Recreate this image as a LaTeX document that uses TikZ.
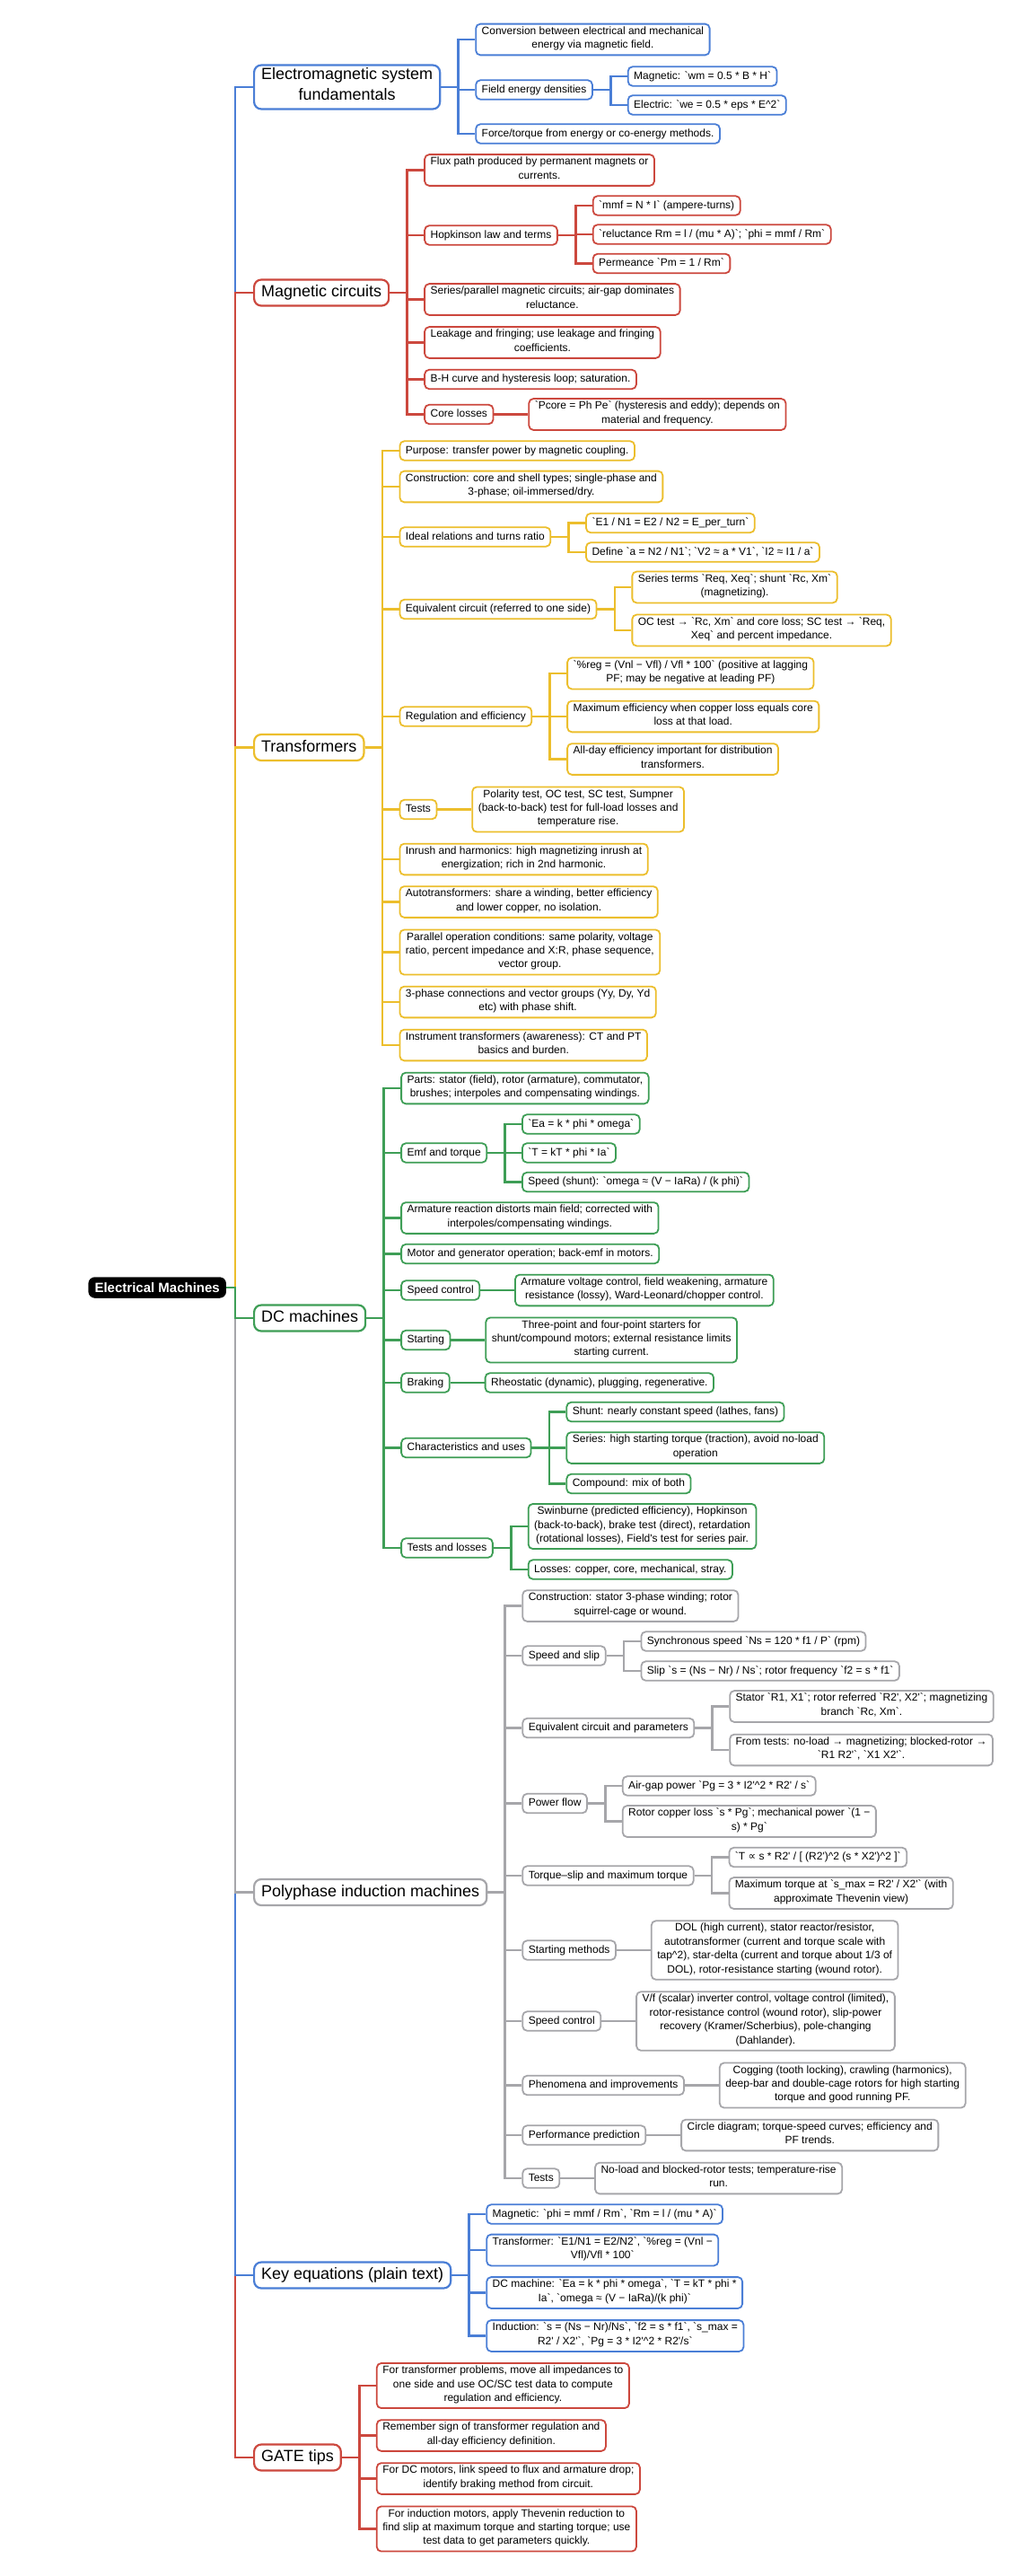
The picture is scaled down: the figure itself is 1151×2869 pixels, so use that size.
\documentclass[tikz,border=0pt]{standalone}
\usepackage{fontspec}
\newfontfamily\mm{Liberation Sans}
\newfontfamily\dv{DejaVu Sans}
\usetikzlibrary{calc}
\definecolor{cb}{RGB}{74,126,214}
\definecolor{cr}{RGB}{204,72,62}
\definecolor{cy}{RGB}{236,190,44}
\definecolor{cg}{RGB}{62,158,86}
\definecolor{ck}{RGB}{166,166,170}
\tikzset{
 leaf/.style={draw=#1, line width=1.8pt, rounded corners=5pt, fill=white, align=center,
   inner xsep=6.5pt, inner ysep=3pt, font=\mm\fontsize{12}{15.4}\selectfont, execute at begin node=\strut},
 topic/.style={draw=#1, line width=2.2pt, rounded corners=8pt, fill=white, align=center,
   inner xsep=8pt, inner ysep=3pt, font=\mm\fontsize{18}{23}\selectfont, execute at begin node=\strut},
 con/.style={draw=#1, line width=2.8pt},
 rootbox/.style={fill=black, text=white, rounded corners=7pt, inner xsep=7pt, inner ysep=6pt,
   font=\mm\bfseries\fontsize{15}{19}\selectfont},
}
\newcommand\NL{\\\strut}
\newcommand\kid[5]{%
 \path ([xshift=38pt]#3.east) coordinate (tmp);
 \node[leaf=#1, anchor=west] (#2) at (tmp |- 0,#4) {#5};
 \draw[con=#1] (#3.east) -- ++(19.5,0) |- (#2.west);
}
\begin{document}
\begin{tikzpicture}[x=1pt,y=-1pt]
\useasboundingbox[fill=white] (0,0) rectangle (1151,2869);
% root (placed first for its anchors)
\node[rootbox, anchor=east] (root) at (252,1434) {Electrical Machines};
% topics
\node[topic=cb, anchor=west] (em) at (282,97) {Electromagnetic system\NL fundamentals};
\node[topic=cr, anchor=west] (mc) at (282,326) {Magnetic circuits};
\node[topic=cy, anchor=west] (tr) at (282,832.5) {Transformers};
\node[topic=cg, anchor=west] (dc) at (282,1468) {DC machines};
\node[topic=ck, anchor=west] (im) at (282,2107.5) {Polyphase induction machines};
\node[topic=cb, anchor=west] (ke) at (282,2534) {Key equations (plain text)};
\node[topic=cr, anchor=west] (gt) at (282,2737) {GATE tips};
% root connectors (order sets overlap)
\draw[con=cb] (root.east) -- ++(10,0) |- (em.west);
\draw[con=cr] (root.east) -- ++(10,0) |- (mc.west);
\draw[con=cy] (root.east) -- ++(10,0) |- (tr.west);
\draw[con=cr] (root.east) -- ++(10,0) |- (gt.west);
\draw[con=cb] (root.east) -- ++(10,0) |- (ke.west);
\draw[con=ck] (root.east) -- ++(10,0) |- (im.west);
\draw[con=cg] (root.east) -- ++(10,0) |- (dc.west);
\node[rootbox, anchor=east] at (root.east) {Electrical Machines};
% Electromagnetic fundamentals
\kid{cb}{em1}{em}{44}{Conversion between electrical and mechanical\NL energy via magnetic field.}
\kid{cb}{em2}{em}{100}{Field energy densities}
\kid{cb}{em2a}{em2}{85}{Magnetic: `wm = 0.5 * B * H`}
\kid{cb}{em2b}{em2}{117}{Electric: `we = 0.5 * eps * E\textasciicircum 2`}
\kid{cb}{em3}{em}{149}{Force/torque from energy or co-energy methods.}
% Magnetic circuits
\kid{cr}{mc1}{mc}{189.5}{Flux path produced by permanent magnets or\NL currents.}
\kid{cr}{mc2}{mc}{262}{Hopkinson law and terms}
\kid{cr}{mc2a}{mc2}{229}{`mmf = N * I` (ampere-turns)}
\kid{cr}{mc2b}{mc2}{261}{`reluctance Rm = l / (mu * A)`; `phi = mmf / Rm`}
\kid{cr}{mc2c}{mc2}{293.5}{Permeance `Pm = 1 / Rm`}
\kid{cr}{mc3}{mc}{333.5}{Series/parallel magnetic circuits; air-gap dominates\NL reluctance.}
\kid{cr}{mc4}{mc}{381.5}{Leakage and fringing; use leakage and fringing\NL coefficients.}
\kid{cr}{mc5}{mc}{422.5}{B-H curve and hysteresis loop; saturation.}
\kid{cr}{mc6}{mc}{461.5}{Core losses}
\kid{cr}{mc6a}{mc6}{461.5}{`Pcore = Ph Pe` (hysteresis and eddy); depends on\NL material and frequency.}
% Transformers
\kid{cy}{tr1}{tr}{502}{Purpose: transfer power by magnetic coupling.}
\kid{cy}{tr2}{tr}{542}{Construction: core and shell types; single-phase and\NL 3-phase; oil-immersed/dry.}
\kid{cy}{tr3}{tr}{598}{Ideal relations and turns ratio}
\kid{cy}{tr3a}{tr3}{582.5}{`E1 / N1 = E2 / N2 = E\_per\_turn`}
\kid{cy}{tr3b}{tr3}{615}{Define `a = N2 / N1`; `V2 ≈ a * V1`, `I2 ≈ I1 / a`}
\kid{cy}{tr4}{tr}{678.5}{Equivalent circuit (referred to one side)}
\kid{cy}{tr4a}{tr4}{654}{Series terms `Req, Xeq`; shunt `Rc, Xm`\NL (magnetizing).}
\kid{cy}{tr4b}{tr4}{702}{OC test → `Rc, Xm` and core loss; SC test → `Req,\NL Xeq` and percent impedance.}
\kid{cy}{tr5}{tr}{798}{Regulation and efficiency}
\kid{cy}{tr5a}{tr5}{750}{`\%reg = (Vnl − Vfl) / Vfl * 100` (positive at lagging\NL PF; may be negative at leading PF)}
\kid{cy}{tr5b}{tr5}{798}{Maximum efficiency when copper loss equals core\NL loss at that load.}
\kid{cy}{tr5c}{tr5}{845.5}{All-day efficiency important for distribution\NL transformers.}
\kid{cy}{tr6}{tr}{901.5}{Tests}
\kid{cy}{tr6a}{tr6}{901.5}{Polarity test, OC test, SC test, Sumpner\NL (back-to-back) test for full-load losses and\NL temperature rise.}
\kid{cy}{tr7}{tr}{957}{Inrush and harmonics: high magnetizing inrush at\NL energization; rich in 2nd harmonic.}
\kid{cy}{tr8}{tr}{1004.5}{Autotransformers: share a winding, better efficiency\NL and lower copper, no isolation.}
\kid{cy}{tr9}{tr}{1060.5}{Parallel operation conditions: same polarity, voltage\NL ratio, percent impedance and X:R, phase sequence,\NL vector group.}
\kid{cy}{tr10}{tr}{1116}{3-phase connections and vector groups (Yy, Dy, Yd\NL etc) with phase shift.}
\kid{cy}{tr11}{tr}{1164}{Instrument transformers (awareness): CT and PT\NL basics and burden.}
% DC machines
\kid{cg}{dc1}{dc}{1212}{Parts: stator (field), rotor (armature), commutator,\NL brushes; interpoles and compensating windings.}
\kid{cg}{dc2}{dc}{1284}{Emf and torque}
\kid{cg}{dc2a}{dc2}{1252}{`Ea = k * phi * omega`}
\kid{cg}{dc2b}{dc2}{1284}{`T = kT * phi * Ia`}
\kid{cg}{dc2c}{dc2}{1316.5}{Speed (shunt): `omega ≈ (V − IaRa) / (k phi)`}
\kid{cg}{dc3}{dc}{1356.5}{Armature reaction distorts main field; corrected with\NL interpoles/compensating windings.}
\kid{cg}{dc4}{dc}{1396.5}{Motor and generator operation; back-emf in motors.}
\kid{cg}{dc5}{dc}{1437}{Speed control}
\kid{cg}{dc5a}{dc5}{1437}{Armature voltage control, field weakening, armature\NL resistance (lossy), Ward-Leonard/chopper control.}
\kid{cg}{dc6}{dc}{1492.5}{Starting}
\kid{cg}{dc6a}{dc6}{1492.5}{Three-point and four-point starters for\NL shunt/compound motors; external resistance limits\NL starting current.}
\kid{cg}{dc7}{dc}{1540}{Braking}
\kid{cg}{dc7a}{dc7}{1540}{Rheostatic (dynamic), plugging, regenerative.}
\kid{cg}{dc8}{dc}{1612.5}{Characteristics and uses}
\kid{cg}{dc8a}{dc8}{1572.5}{Shunt: nearly constant speed (lathes, fans)}
\kid{cg}{dc8b}{dc8}{1612.5}{Series: high starting torque (traction), avoid no-load\NL operation}
\kid{cg}{dc8c}{dc8}{1652.5}{Compound: mix of both}
\kid{cg}{dc9}{dc}{1724}{Tests and losses}
\kid{cg}{dc9a}{dc9}{1700}{Swinburne (predicted efficiency), Hopkinson\NL (back-to-back), brake test (direct), retardation\NL (rotational losses), Field's test for series pair.}
\kid{cg}{dc9b}{dc9}{1748}{Losses: copper, core, mechanical, stray.}
% Polyphase induction machines
\kid{ck}{im1}{im}{1788.5}{Construction: stator 3-phase winding; rotor\NL squirrel-cage or wound.}
\kid{ck}{im2}{im}{1844}{Speed and slip}
\kid{ck}{im2a}{im2}{1828}{Synchronous speed `Ns = 120 * f1 / P` (rpm)}
\kid{ck}{im2b}{im2}{1861}{Slip `s = (Ns − Nr) / Ns`; rotor frequency `f2 = s * f1`}
\kid{ck}{im3}{im}{1924.5}{Equivalent circuit and parameters}
\kid{ck}{im3a}{im3}{1900.5}{Stator `R1, X1`; rotor referred `R2', X2'`; magnetizing\NL branch `Rc, Xm`.}
\kid{ck}{im3b}{im3}{1949}{From tests: no-load → magnetizing; blocked-rotor →\NL `R1 R2'`, `X1 X2'`.}
\kid{ck}{im4}{im}{2008.5}{Power flow}
\kid{ck}{im4a}{im4}{1989}{Air-gap power `Pg = 3 * I2'\textasciicircum 2 * R2' / s`}
\kid{ck}{im4b}{im4}{2028.5}{Rotor copper loss `s * Pg`; mechanical power `(1 −\NL s) * Pg`}
\kid{ck}{im5}{im}{2089}{Torque–slip and maximum torque}
\kid{ck}{im5a}{im5}{2068.5}{`T {\dv ∝} s * R2' / [ (R2')\textasciicircum 2 (s * X2')\textasciicircum 2 ]`}
\kid{ck}{im5b}{im5}{2108.5}{Maximum torque at `s\_max = R2' / X2'` (with\NL approximate Thevenin view)}
\kid{ck}{im6}{im}{2172}{Starting methods}
\kid{ck}{im6a}{im6}{2172}{DOL (high current), stator reactor/resistor,\NL autotransformer (current and torque scale with\NL tap\textasciicircum 2), star-delta (current and torque about 1/3 of\NL DOL), rotor-resistance starting (wound rotor).}
\kid{ck}{im7}{im}{2251}{Speed control}
\kid{ck}{im7a}{im7}{2251}{V/f (scalar) inverter control, voltage control (limited),\NL rotor-resistance control (wound rotor), slip-power\NL recovery (Kramer/Scherbius), pole-changing\NL (Dahlander).}
\kid{ck}{im8}{im}{2322.5}{Phenomena and improvements}
\kid{ck}{im8a}{im8}{2322.5}{Cogging (tooth locking), crawling (harmonics),\NL deep-bar and double-cage rotors for high starting\NL torque and good running PF.}
\kid{ck}{im9}{im}{2378}{Performance prediction}
\kid{ck}{im9a}{im9}{2378}{Circle diagram; torque-speed curves; efficiency and\NL PF trends.}
\kid{ck}{im10}{im}{2426}{Tests}
\kid{ck}{im10a}{im10}{2426}{No-load and blocked-rotor tests; temperature-rise\NL run.}
% Key equations
\kid{cb}{ke1}{ke}{2466}{Magnetic: `phi = mmf / Rm`, `Rm = l / (mu * A)`}
\kid{cb}{ke2}{ke}{2506}{Transformer: `E1/N1 = E2/N2`, `\%reg = (Vnl −\NL Vfl)/Vfl * 100`}
\kid{cb}{ke3}{ke}{2553.5}{DC machine: `Ea = k * phi * omega`, `T = kT * phi *\NL Ia`, `omega ≈ (V − IaRa)/(k phi)`}
\kid{cb}{ke4}{ke}{2601.5}{Induction: `s = (Ns − Nr)/Ns`, `f2 = s * f1`, `s\_max =\NL R2' / X2'`, `Pg = 3 * I2'\textasciicircum 2 * R2'/s`}
% GATE tips
\kid{cr}{gt1}{gt}{2657}{For transformer problems, move all impedances to\NL one side and use OC/SC test data to compute\NL regulation and efficiency.}
\kid{cr}{gt2}{gt}{2712.5}{Remember sign of transformer regulation and\NL all-day efficiency definition.}
\kid{cr}{gt3}{gt}{2760.5}{For DC motors, link speed to flux and armature drop;\NL identify braking method from circuit.}
\kid{cr}{gt4}{gt}{2816.5}{For induction motors, apply Thevenin reduction to\NL find slip at maximum torque and starting torque; use\NL test data to get parameters quickly.}
\end{tikzpicture}
\end{document}
